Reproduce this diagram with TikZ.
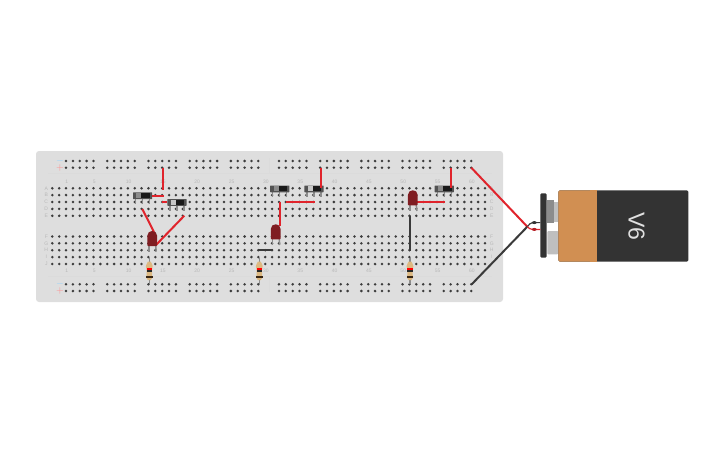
\documentclass[tikz,border=0pt]{standalone}
\usepackage{fontspec}
\usepackage{xcolor}
\setmainfont{Liberation Sans}
\usetikzlibrary{calc,positioning}
\definecolor{boardgrey}{HTML}{DEDEDE}
\definecolor{holegrey}{HTML}{3C3C3C}
\definecolor{wirered}{HTML}{E0242C}
\definecolor{wiredark}{HTML}{3A3A3A}
\definecolor{ledred}{HTML}{7F1D22}
\definecolor{battorange}{HTML}{D18F52}
\definecolor{battdark}{HTML}{333333}
\definecolor{restan}{HTML}{DDB981}

\begin{document}
\begin{tikzpicture}[x=1pt,y=-1pt,
            redwire/.style={draw=wirered,line width=2pt},
            darkwire/.style={draw=wiredark,line width=2pt},
            lead/.style={draw=black!45,line width=1.5pt},
            boardtxt/.style={text=black!28,font=\fontsize{5}{5}\selectfont,inner sep=0pt},
            swbody/.style={fill=black!68,minimum width=19.2pt,minimum height=6.8pt,inner sep=0pt,rounded corners=0.5pt},
            swdark/.style={fill=black!90,minimum width=8.4pt,minimum height=5pt,inner sep=0pt},
            swknob/.style={minimum width=5pt,minimum height=5pt,inner sep=0pt},
            ledbody/.style={fill=ledred,rounded corners=0.8pt}]
            \useasboundingbox (0,0) rectangle (725,453);
            \node (board) [fill=boardgrey,rounded corners=3pt,minimum width=467pt,minimum height=151pt,inner sep=0pt] at (269.5,226.5) {};
            \draw[black!14,line width=0.7pt] (48,173.3) -- (492,173.3);
            \draw[black!14,line width=0.7pt] (48,276.3) -- (492,276.3);
            \draw[black!14,line width=0.7pt] (269,158) -- (269,173.3);
            \draw[black!14,line width=0.7pt] (269,276.3) -- (269,292);
            \foreach \k in {2,8,14,20,26,33,39,45,51,57}
                \foreach \i in {0,...,4}
                    \foreach \y in {161,167.7,284.3,291}
                        \fill[holegrey] ({52.3+(\k+\i)*6.868},\y) circle (1.4pt);
            \foreach \k in {0,...,63}
                \foreach \y in {188.3,195.1,202,208.9,215.8,236.5,243.3,250.2,257.1,264}
                    \fill[holegrey] ({52.3+\k*6.868},\y) circle (1.4pt);
            \foreach \n in {1,5,10,15,...,60} {
                \node (top\n) [boardtxt] at ({53+(\n+1)*6.868},182) {\n};
                \node (bot\n) [boardtxt] at ({53+(\n+1)*6.868},271) {\n};
            }
            \foreach \r/\y in {A/188.3,B/195.1,C/202,D/208.9,E/215.8,F/236.5,G/243.3,H/250.2,I/257.1,J/264} {
                \node (left\r) [boardtxt] at (46.3,\y) {\r};
                \node (right\r) [boardtxt] at (491.7,\y) {\r};
            }
            \foreach \n/\y/\s/\c in {a/161/$-$/blue!40!cyan!45,b/167.7/$+$/red!45,c/284.3/$-$/blue!40!cyan!45,d/291/$+$/red!45}
                \node (rail\n) [text=\c,font=\fontsize{10}{10}\selectfont,inner sep=0pt] at (60,\y) {\s};
            %
            \foreach \n/\x/\y/\c in {1/142.6/195.7/black!45,2/177/202.4/black!22,3/279.7/188.9/black!45,4/314/188.9/black!22,5/444.3/188.9/black!45} {
                \foreach \d in {-7,0,7}
                    \draw[lead] (\x+\d,\y) -- (\x+\d,\y+8.2);
                \node (sw\n) [swbody] at (\x,\y) {};
                \node (swd\n) [swdark] at (\x+3,\y) {};
                \node (swk\n) [swknob,fill=\c] at (\x-3.7,\y) {};
            }
            %
            \foreach \n/\x/\y in {1/149.3/258,2/259.3/258,3/410/258} {
                \draw[lead] (\x,\y) -- (\x,\y+26);
                \fill[fill=restan] (\x-1.5,\y+3.7) .. controls (\x-1.5,\y+5) and (\x-3.4,\y+6) .. (\x-3.4,\y+8)
                    .. controls (\x-3.4,\y+10) and (\x-2.7,\y+10) .. (\x-2.7,\y+12) -- (\x-2.7,\y+17)
                    .. controls (\x-3.4,\y+18) and (\x-3.4,\y+21) .. (\x-1.5,\y+22) -- (\x+1.5,\y+22)
                    .. controls (\x+3.4,\y+21) and (\x+3.4,\y+18) .. (\x+2.7,\y+17) -- (\x+2.7,\y+12)
                    .. controls (\x+2.7,\y+10) and (\x+3.4,\y+10) .. (\x+3.4,\y+8)
                    .. controls (\x+3.4,\y+6) and (\x+1.5,\y+5) .. (\x+1.5,\y+3.7) -- cycle;
                \fill[red] (\x-2.8,\y+10.4) rectangle (\x+2.8,\y+12.4);
                \fill[black!85] (\x-2.8,\y+12.4) rectangle (\x+2.8,\y+14.4);
                \fill[black!70!brown] (\x-3.2,\y+18.2) rectangle (\x+3.2,\y+20.2);
            }
            %
            \coordinate (ra) at (162.7,167.7);   \coordinate (rb) at (162.7,190);
            \coordinate (rc) at (152,195.7);     \coordinate (rd) at (164,195.7);
            \coordinate (re) at (162.3,202.2);   \coordinate (rf) at (167.3,202.2);
            \coordinate (rg) at (142.3,209);     \coordinate (rh) at (154,232);
            \coordinate (ri) at (184.3,215.7);   \coordinate (rj) at (156,245);
            \coordinate (rk) at (279.7,201.7);   \coordinate (rl) at (279.7,226);
            \coordinate (rm) at (286,202.2);     \coordinate (rn) at (314.7,202.2);
            \coordinate (ro) at (320.7,167.7);   \coordinate (rp) at (320.7,188);
            \coordinate (rq) at (450.7,167.7);   \coordinate (rr) at (450.7,188);
            \coordinate (rs) at (417,202.2);     \coordinate (rt) at (445,202.2);
            \coordinate (ru) at (471.3,167.7);   \coordinate (rv) at (527.3,226.7);
            \coordinate (da) at (258.3,250.2);   \coordinate (db) at (273.3,250.2);
            \coordinate (dc) at (410,215.7);     \coordinate (dd) at (410,251);
            \coordinate (de) at (471.7,284.3);   \coordinate (df) at (527.3,226.7);
            \foreach \a/\b in {ra/rb,rc/rd,re/rf,rg/rh,ri/rj,rk/rl,rm/rn,ro/rp,rq/rr,rs/rt,ru/rv}
                \draw[redwire] (\a) -- (\b);
            \foreach \a/\b in {da/db,dc/dd,de/df}
                \draw[darkwire] (\a) -- (\b);
            %
            \foreach \n/\x/\y in {1/152.2/231,2/275.7/224.3,3/412.8/190.3} {
                \draw[lead] (\x-3,\y+14) -- (\x-3,\y+20.7);
                \draw[lead] (\x+3.5,\y+14) -- (\x+4,\y+20.7);
                \fill[ledbody] (\x-4.9,\y+15) -- (\x-4.9,\y+5.5) .. controls (\x-4.9,\y-1.6) and (\x+4.9,\y-1.6) .. (\x+4.9,\y+5.5) -- (\x+4.9,\y+15) -- cycle;
                \coordinate (led\n) at (\x,\y+7);
            }
            %
            \node (termb) [fill=black!25,minimum width=4.5pt,minimum height=20pt,inner sep=0pt] at (556,211.7) {};
            \node (terma) [fill=black!45,minimum width=7.5pt,minimum height=23.4pt,inner sep=0pt] at (550.4,211.7) {};
            \node (termc) [fill=black!25,minimum width=11pt,minimum height=23.4pt,inner sep=0pt,rounded corners=1pt] at (552.8,242.7) {};
            \node (plate) [fill=battdark,minimum width=6.4pt,minimum height=64.4pt,inner sep=0pt,rounded corners=1.2pt] at (543.5,225.5) {};
            \node (dark) [fill=battdark,minimum width=130pt,minimum height=71.4pt,inner sep=0pt,rounded corners=1.5pt] at (623.3,226) {};
            \node (orange) [fill=battorange,minimum width=36pt,minimum height=71.4pt,inner sep=0pt,rounded corners=1.5pt] at (576.3,226) {};
            \fill[battorange] (590,190.3) rectangle (597,261.7);
            \node (nine) [rotate=-90,text=black!12,font=\fontsize{23}{24}\selectfont,inner sep=0pt] at (636.5,226.3) {V6};
            %
            \coordinate (snapa) at (540.4,222.6);
            \coordinate (snapb) at (540.4,229.4);
            \draw[draw=wiredark,line width=1.2pt] (df) .. controls (529.5,224.4) and (530.5,222.6) .. (532.5,222.6) -- (snapa);
            \draw[draw=wirered,line width=1.2pt] (rv) .. controls (528.5,228.2) and (530.5,229.4) .. (532.5,229.4) -- (snapb);
            \fill[black!80] (534.3,222.6) ellipse (2.4pt and 1.5pt);
            \fill[wirered!80!black] (534.3,229.4) ellipse (2.4pt and 1.5pt);
\end{tikzpicture}
\end{document}
